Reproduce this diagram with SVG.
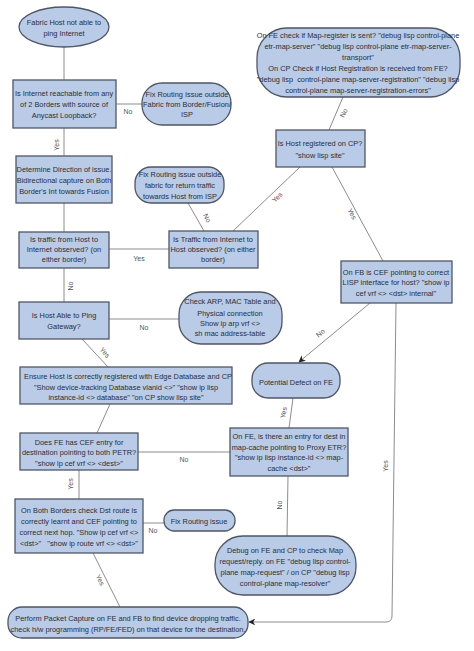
<svg xmlns="http://www.w3.org/2000/svg" width="474" height="651" viewBox="0 0 474 651">
<defs>
<style>
.n{fill:#b9cbe6;stroke:#4f5666;stroke-width:1.3}
.t{font-family:"Liberation Sans",Arial,sans-serif;font-size:7.4px;fill:#2a2d38;text-anchor:middle}
.c{fill:none;stroke:#8c8c8c;stroke-width:1}
.l{font-family:"Liberation Sans",Arial,sans-serif;font-size:7px;fill:#555;text-anchor:middle}
</style>
<marker id="ah" viewBox="0 0 10 10" refX="9" refY="5" markerWidth="7" markerHeight="7" orient="auto-start-reverse" markerUnits="userSpaceOnUse">
<path d="M0,0 L10,5 L0,10 L3,5 z" fill="#222"/>
</marker>
</defs>
<rect width="474" height="651" fill="#fff"/>

<g id="connectors">
<line class="c" x1="64" y1="47" x2="64" y2="80"/>
<line class="c" x1="116" y1="104" x2="142" y2="104"/>
<text class="l" x="128" y="114">No</text>
<line class="c" x1="64" y1="128" x2="64" y2="156"/>
<text class="l" transform="translate(59,145) rotate(-90)">Yes</text>
<line class="c" x1="64" y1="203" x2="64" y2="232"/>
<line class="c" x1="109" y1="249" x2="169" y2="249"/>
<text class="l" x="139" y="261">Yes</text>
<line class="c" x1="188" y1="203" x2="204" y2="231"/>
<text class="l" transform="translate(205,219) rotate(65)">No</text>
<line class="c" x1="329" y1="130" x2="343" y2="97"/>
<text class="l" transform="translate(346,114) rotate(-65)">No</text>
<line class="c" x1="300" y1="167" x2="233" y2="231"/>
<text class="l" transform="translate(279,199) rotate(-45)">Yes</text>
<line class="c" x1="332" y1="167" x2="383" y2="261"/>
<text class="l" transform="translate(350,215) rotate(62)">Yes</text>
<line class="c" x1="370" y1="303" x2="299" y2="362" marker-end="url(#ah)"/>
<text class="l" transform="translate(322,335) rotate(-40)">No</text>
<path class="c" d="M396,303 L392,616 Q392,622 386,622 L249,622" marker-end="url(#ah)"/>
<text class="l" transform="translate(388,466) rotate(-90)">Yes</text>
<line class="c" x1="64" y1="268" x2="64" y2="302"/>
<text class="l" transform="translate(73,286) rotate(-90)">No</text>
<line class="c" x1="109" y1="319" x2="179" y2="319"/>
<text class="l" x="144" y="330">No</text>
<line class="c" x1="82" y1="339" x2="108" y2="367"/>
<text class="l" transform="translate(103,354) rotate(50)">Yes</text>
<line class="c" x1="110" y1="404" x2="97" y2="433"/>
<line class="c" x1="138" y1="452" x2="230" y2="452"/>
<text class="l" x="184" y="462">No</text>
<line class="c" x1="293" y1="398" x2="289" y2="428"/>
<text class="l" transform="translate(286,413) rotate(-80)">Yes</text>
<line class="c" x1="288" y1="476" x2="287" y2="536"/>
<text class="l" transform="translate(282,505) rotate(-90)">No</text>
<line class="c" x1="79" y1="470" x2="79" y2="499"/>
<text class="l" transform="translate(73,484) rotate(-90)">Yes</text>
<line class="c" x1="143" y1="523" x2="164" y2="523"/>
<text class="l" x="153" y="533">No</text>
<line class="c" x1="93" y1="553" x2="120" y2="607"/>
<text class="l" transform="translate(98,581) rotate(63)">Yes</text>
</g>

<g id="start">
<ellipse class="n" cx="64" cy="27" rx="45" ry="20"/>
<text class="t"><tspan x="64" y="24.5">Fabric Host not able to</tspan><tspan x="64" y="35.5">ping Internet</tspan></text>
</g>
<g id="internet-reachable">
<rect class="n" x="13" y="80" width="103" height="48"/>
<text class="t"><tspan x="64" y="95.5">Is Internet reachable from any</tspan><tspan x="64" y="106.5">of 2 Borders with source of</tspan><tspan x="64" y="117.5">Anycast Loopback?</tspan></text>
</g>
<g id="fix-routing-outside">
<rect class="n" x="142" y="83" width="89" height="42" rx="20"/>
<text class="t"><tspan x="187" y="96.5">Fix Routing Issue outside</tspan><tspan x="187" y="106.5">Fabric from Border/Fusion/</tspan><tspan x="187" y="116.5">ISP</tspan></text>
</g>
<g id="determine-direction">
<rect class="n" x="16" y="156" width="96" height="47"/>
<text class="t"><tspan x="64" y="171.5">Determine Direction of issue.</tspan><tspan x="64" y="182.5">Bidirectional capture on Both</tspan><tspan x="64" y="193.5">Border's Int towards Fusion</tspan></text>
</g>
<g id="fix-routing-return">
<rect class="n" x="135" y="167" width="89" height="36" rx="16"/>
<text class="t"><tspan x="180" y="176.5">Fix Routing issue outside</tspan><tspan x="180" y="187.5">fabric for return traffic</tspan><tspan x="180" y="198.5">towards Host from ISP</tspan></text>
</g>
<g id="host-to-internet">
<rect class="n" x="19" y="232" width="90" height="36"/>
<text class="t"><tspan x="64" y="241.5">Is traffic from Host to</tspan><tspan x="64" y="251.5">Internet observed? (on</tspan><tspan x="64" y="261.5">either border)</tspan></text>
</g>
<g id="internet-to-host">
<rect class="n" x="169" y="231" width="89" height="37"/>
<text class="t"><tspan x="213" y="241.5">Is Traffic from Internet to</tspan><tspan x="213" y="251.5">Host observed? (on either</tspan><tspan x="213" y="261.5">border)</tspan></text>
</g>
<g id="map-register-check">
<rect class="n" x="257" y="28" width="203" height="69" rx="30"/>
<text class="t" xml:space="preserve"><tspan x="358" y="37.5">On FE check if Map-register is sent? "debug lisp control-plane</tspan><tspan x="358" y="48.5">etr-map-server" "debug lisp control-plane etr-map-server-</tspan><tspan x="358" y="59.5">transport"</tspan><tspan x="358" y="70.5">On CP Check if Host Registration is received from FE?</tspan><tspan x="358" y="81.5">"debug lisp  control-plane map-server-registration" "debug lisp</tspan><tspan x="358" y="92.5">control-plane map-server-registration-errors"</tspan></text>
</g>
<g id="host-registered-cp">
<rect class="n" x="276" y="130" width="89" height="37"/>
<text class="t"><tspan x="320" y="145.5">Is Host registered on CP?</tspan><tspan x="320" y="157.5">"show lisp site"</tspan></text>
</g>
<g id="fb-cef">
<rect class="n" x="341" y="261" width="111" height="42"/>
<text class="t"><tspan x="396" y="274.5">On FB is CEF pointing to correct</tspan><tspan x="396" y="284.5">LISP interface for host? "show ip</tspan><tspan x="396" y="295.5">cef vrf &lt;&gt; &lt;dst&gt; internal"</tspan></text>
</g>
<g id="host-ping-gateway">
<rect class="n" x="19" y="302" width="90" height="37"/>
<text class="t"><tspan x="64" y="317.5">Is Host Able to Ping</tspan><tspan x="64" y="328.5">Gateway?</tspan></text>
</g>
<g id="check-arp">
<rect class="n" x="179" y="292" width="103" height="52" rx="22"/>
<text class="t"><tspan x="230" y="303.5">Check ARP, MAC Table and</tspan><tspan x="230" y="315.5">Physical connection</tspan><tspan x="230" y="325.5">Show ip arp vrf &lt;&gt;</tspan><tspan x="230" y="335.5">sh mac address-table</tspan></text>
</g>
<g id="ensure-host">
<rect class="n" x="20" y="367" width="212" height="37"/>
<text class="t"><tspan x="128" y="378.5">Ensure Host is correctly registered with Edge Database and CP</tspan><tspan x="126" y="389.5">"Show device-tracking Database vlanid &lt;&gt;" "show ip lisp</tspan><tspan x="126" y="399.5">instance-id &lt;&gt; database" "on CP show lisp site"</tspan></text>
</g>
<g id="potential-defect">
<rect class="n" x="252" y="363" width="88" height="35" rx="16"/>
<text class="t"><tspan x="296" y="384.5">Potential Defect on FE</tspan></text>
</g>
<g id="fe-cef-petr">
<rect class="n" x="20" y="433" width="118" height="37"/>
<text class="t"><tspan x="79" y="444.5">Does FE has CEF entry for</tspan><tspan x="79" y="454.5">destination pointing to both PETR?</tspan><tspan x="79" y="465.5">"show ip cef vrf &lt;&gt; &lt;dest&gt;"</tspan></text>
</g>
<g id="fe-map-cache">
<rect class="n" x="230" y="428" width="118" height="48"/>
<text class="t"><tspan x="289" y="438.5">On FE, is there an entry for dest in</tspan><tspan x="289" y="449.5">map-cache pointing to Proxy ETR?</tspan><tspan x="289" y="459.5">"show ip lisp instance-id &lt;&gt; map-</tspan><tspan x="289" y="470.5">cache &lt;dst&gt;"</tspan></text>
</g>
<g id="borders-dst-route">
<rect class="n" x="15" y="499" width="128" height="54"/>
<text class="t" xml:space="preserve"><tspan x="79" y="512.5">On Both Borders check Dst route is</tspan><tspan x="79" y="523.5">correctly learnt and CEF pointing to</tspan><tspan x="79" y="534.5">correct next hop. "Show ip cef vrf &lt;&gt;</tspan><tspan x="79" y="545.5">&lt;dst&gt;"   "show ip route vrf &lt;&gt; &lt;dst&gt;"</tspan></text>
</g>
<g id="fix-routing">
<rect class="n" x="164" y="510" width="71" height="21" rx="10"/>
<text class="t"><tspan x="199" y="523.5">Fix Routing issue</tspan></text>
</g>
<g id="debug-map-request">
<rect class="n" x="215" y="536" width="141" height="59" rx="28"/>
<text class="t"><tspan x="285" y="552.5">Debug on FE and CP to check Map</tspan><tspan x="285" y="563.5">request/reply. on FE "debug lisp control-</tspan><tspan x="285" y="574.5">plane map-request" / on CP "debug lisp</tspan><tspan x="285" y="585.5">control-plane map-resolver"</tspan></text>
</g>
<g id="packet-capture">
<rect class="n" x="8" y="607" width="240" height="31" rx="14"/>
<text class="t"><tspan x="128" y="620.5">Perform Packet Capture on FE and FB  to find device dropping traffic.</tspan><tspan x="128" y="631.5">check h/w programming (RP/FE/FED) on that device for the destination.</tspan></text>
</g>
</svg>
